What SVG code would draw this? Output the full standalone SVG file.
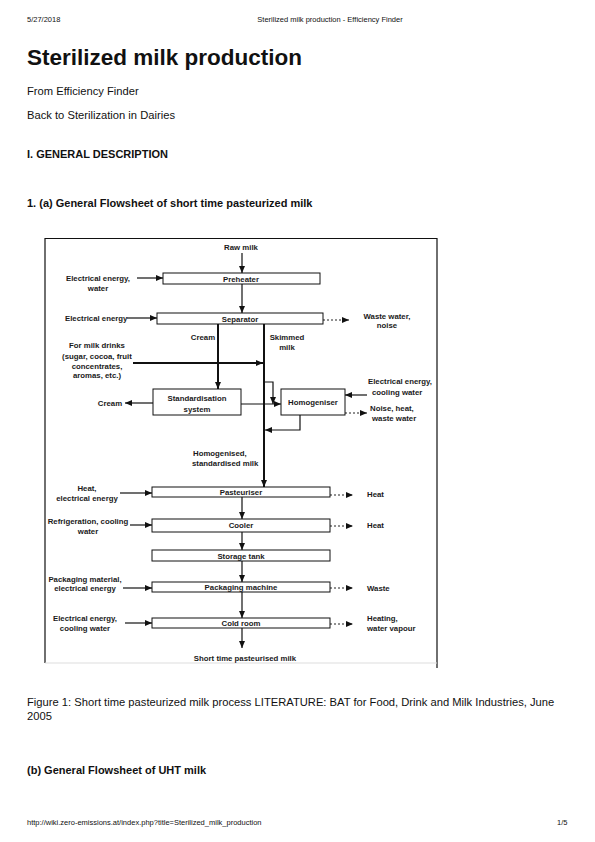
<svg xmlns="http://www.w3.org/2000/svg" width="595" height="842" viewBox="0 0 595 842">
<defs>
<marker id="ah" markerUnits="userSpaceOnUse" markerWidth="8" markerHeight="6" refX="7" refY="3" orient="auto"><path d="M0,0 L7,3 L0,6 z" fill="#111"/></marker>
</defs>
<style>
.pg{font-family:"Liberation Sans",Arial,sans-serif;fill:#111}
.hd{font-size:7.5px}
.body{font-size:11.2px}
.bh{font-size:11px;font-weight:bold}
.t{font-family:"Liberation Sans",Arial,sans-serif;font-size:7.8px;font-weight:bold;fill:#1a1a1a}
.c{text-anchor:middle}
.box{fill:#fff;stroke:#111;stroke-width:1}
.ln{fill:none;stroke:#111;stroke-width:1.2}
.dl{fill:none;stroke:#222;stroke-width:1;stroke-dasharray:2,2}
.main{fill:none;stroke:#111;stroke-width:2}
</style>
<rect width="595" height="842" fill="#fff"/>
<g id="page-text">
<text class="pg hd" x="27" y="22">5/27/2018</text>
<text class="pg hd c" x="330" y="22">Sterilized milk production - Efficiency Finder</text>
<text class="pg" x="27" y="65" font-size="22.5" font-weight="bold">Sterilized milk production</text>
<text class="pg body" x="27" y="95">From Efficiency Finder</text>
<text class="pg body" x="27" y="119">Back to Sterilization in Dairies</text>
<text class="pg bh" x="27" y="158">I. GENERAL DESCRIPTION</text>
<text class="pg bh" x="27" y="207">1. (a) General Flowsheet of short time pasteurized milk</text>
<text class="pg body" x="27" y="706">Figure 1: Short time pasteurized milk process LITERATURE: BAT for Food, Drink and Milk Industries, June</text>
<text class="pg body" x="27" y="720">2005</text>
<text class="pg bh" x="27" y="774">(b) General Flowsheet of UHT milk</text>
<text class="pg hd" x="27" y="825">http://wiki.zero-emissions.at/index.php?title=Sterilized_milk_production</text>
<text class="pg hd" x="557" y="825">1/5</text>
</g>
<g id="frame">
<path d="M45,663 V238.5 H437 V668" fill="none" stroke="#111" stroke-width="1.2"/>
<path d="M45,663 H437" fill="none" stroke="#ddd" stroke-width="1"/>
</g>
<g id="connectors">
<line class="ln" x1="242" y1="253" x2="242" y2="273" marker-end="url(#ah)"/>
<line class="ln" x1="242" y1="284" x2="242" y2="313" marker-end="url(#ah)"/>
<line class="ln" x1="137" y1="278" x2="163" y2="278" marker-end="url(#ah)"/>
<line class="ln" x1="127" y1="318" x2="157" y2="318" marker-end="url(#ah)"/>
<line class="dl" x1="323" y1="320" x2="349" y2="320" marker-end="url(#ah)"/>
<line class="main" x1="218" y1="324" x2="218" y2="389" marker-end="url(#ah)"/>
<line class="main" x1="264" y1="324" x2="264" y2="487" marker-end="url(#ah)"/>
<line class="main" x1="133" y1="363" x2="263" y2="363" marker-end="url(#ah)"/>
<path class="ln" d="M264,382 H273 V404" marker-end="url(#ah)"/>
<line class="ln" x1="241" y1="404" x2="281" y2="404" marker-end="url(#ah)"/>
<line class="ln" x1="153" y1="403" x2="125" y2="403" marker-end="url(#ah)"/>
<path class="ln" d="M300,415 V430 H265" marker-end="url(#ah)"/>
<line class="ln" x1="367" y1="395" x2="345" y2="395" marker-end="url(#ah)"/>
<line class="dl" x1="345" y1="413" x2="367" y2="413" marker-end="url(#ah)"/>
<line class="ln" x1="120" y1="493" x2="152" y2="493" marker-end="url(#ah)"/>
<line class="ln" x1="242" y1="497" x2="242" y2="519" marker-end="url(#ah)"/>
<line class="dl" x1="330" y1="495" x2="353" y2="495" marker-end="url(#ah)"/>
<line class="ln" x1="130" y1="525" x2="152" y2="525" marker-end="url(#ah)"/>
<line class="dl" x1="330" y1="526" x2="353" y2="526" marker-end="url(#ah)"/>
<line class="ln" x1="242" y1="532" x2="242" y2="550" marker-end="url(#ah)"/>
<line class="ln" x1="242" y1="561" x2="242" y2="582" marker-end="url(#ah)"/>
<line class="ln" x1="123" y1="588" x2="152" y2="588" marker-end="url(#ah)"/>
<line class="dl" x1="330" y1="588" x2="353" y2="588" marker-end="url(#ah)"/>
<line class="ln" x1="242" y1="592" x2="242" y2="618" marker-end="url(#ah)"/>
<line class="ln" x1="125" y1="623" x2="152" y2="623" marker-end="url(#ah)"/>
<line class="dl" x1="330" y1="624" x2="353" y2="624" marker-end="url(#ah)"/>
<line class="ln" x1="242" y1="628" x2="242" y2="648" marker-end="url(#ah)"/>
</g>
<g id="raw-milk"><text class="t c" x="241" y="250">Raw milk</text></g>
<g id="preheater"><rect class="box" x="163" y="273" width="157" height="11"/><text class="t c" x="241" y="281.5">Preheater</text></g>
<g id="in-preheater"><text class="t c" x="98" y="281">Electrical energy,</text><text class="t c" x="98" y="291">water</text></g>
<g id="separator"><rect class="box" x="157" y="313" width="166" height="11"/><text class="t c" x="240" y="321.5">Separator</text></g>
<g id="in-separator"><text class="t" x="65" y="321">Electrical energy</text></g>
<g id="out-separator"><text class="t c" x="387" y="319">Waste water,</text><text class="t c" x="387" y="328">noise</text></g>
<g id="cream-label"><text class="t c" x="203" y="340">Cream</text></g>
<g id="skimmed-label"><text class="t c" x="287" y="340">Skimmed</text><text class="t c" x="287" y="350">milk</text></g>
<g id="milk-drinks"><text class="t c" x="97" y="348">For milk drinks</text><text class="t c" x="97" y="359">(sugar, cocoa, fruit</text><text class="t c" x="97" y="369">concentrates,</text><text class="t c" x="97" y="378">aromas, etc.)</text></g>
<g id="standardisation"><rect class="box" x="153" y="389" width="88" height="26"/><text class="t c" x="197" y="401">Standardisation</text><text class="t c" x="197" y="412">system</text></g>
<g id="cream-out"><text class="t c" x="110" y="406">Cream</text></g>
<g id="homogeniser"><rect class="box" x="281" y="389" width="64" height="26"/><text class="t c" x="313" y="405">Homogeniser</text></g>
<g id="in-homogeniser"><text class="t" x="368" y="384">Electrical energy,</text><text class="t" x="372" y="395">cooling water</text></g>
<g id="out-homogeniser"><text class="t" x="370" y="411">Noise, heat,</text><text class="t" x="372" y="421">waste water</text></g>
<g id="homogenised-label"><text class="t" x="193" y="456">Homogenised,</text><text class="t" x="192" y="466">standardised milk</text></g>
<g id="pasteuriser"><rect class="box" x="152" y="487" width="178" height="10"/><text class="t c" x="241" y="495">Pasteuriser</text></g>
<g id="in-pasteuriser"><text class="t c" x="87" y="491">Heat,</text><text class="t c" x="87" y="501">electrical energy</text></g>
<g id="out-pasteuriser"><text class="t" x="367" y="497">Heat</text></g>
<g id="cooler"><rect class="box" x="152" y="519" width="178" height="13"/><text class="t c" x="241" y="528">Cooler</text></g>
<g id="in-cooler"><text class="t c" x="88" y="524">Refrigeration, cooling</text><text class="t c" x="88" y="534">water</text></g>
<g id="out-cooler"><text class="t" x="367" y="528">Heat</text></g>
<g id="storage-tank"><rect class="box" x="152" y="550" width="178" height="11"/><text class="t c" x="241" y="558.5">Storage tank</text></g>
<g id="packaging"><rect class="box" x="152" y="582" width="178" height="10"/><text class="t c" x="241" y="590">Packaging machine</text></g>
<g id="in-packaging"><text class="t c" x="85" y="582">Packaging material,</text><text class="t c" x="85" y="591">electrical energy</text></g>
<g id="out-packaging"><text class="t" x="367" y="591">Waste</text></g>
<g id="cold-room"><rect class="box" x="152" y="618" width="178" height="10"/><text class="t c" x="241" y="626">Cold room</text></g>
<g id="in-cold-room"><text class="t c" x="85" y="621">Electrical energy,</text><text class="t c" x="85" y="631">cooling water</text></g>
<g id="out-cold-room"><text class="t" x="367" y="621">Heating,</text><text class="t" x="367" y="631">water vapour</text></g>
<g id="product"><text class="t c" x="245" y="661">Short time pasteurised milk</text></g>
</svg>
